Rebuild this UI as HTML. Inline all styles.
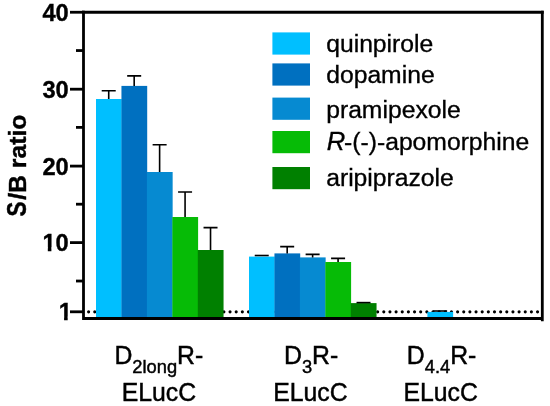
<!DOCTYPE html>
<html><head><meta charset="utf-8"><title>S/B ratio</title>
<style>
html,body{margin:0;padding:0;background:#fff;}
svg{display:block;font-family:"Liberation Sans",Arial,Helvetica,sans-serif;}
</style></head>
<body>
<svg width="550" height="406" viewBox="0 0 550 406">
<rect width="550" height="406" fill="#fff"/>
<!-- dotted reference line -->
<path d="M88.6 311.8H539" fill="none" stroke="#000" stroke-width="3.15" stroke-linecap="round" stroke-dasharray="0 6.15"/>
<!-- bars -->
<rect x="96.00" y="99.00" width="25.75" height="219.00" fill="#00bfff"/>
<rect x="121.45" y="85.90" width="25.75" height="232.10" fill="#0070c0"/>
<rect x="146.90" y="172.00" width="25.75" height="146.00" fill="#068ad1"/>
<rect x="172.35" y="217.00" width="25.75" height="101.00" fill="#06bb06"/>
<rect x="197.80" y="250.00" width="25.75" height="68.00" fill="#008000"/>
<rect x="249.00" y="256.60" width="25.75" height="61.40" fill="#00bfff"/>
<rect x="274.45" y="253.40" width="25.75" height="64.60" fill="#0070c0"/>
<rect x="299.90" y="257.40" width="25.75" height="60.60" fill="#068ad1"/>
<rect x="325.35" y="262.00" width="25.75" height="56.00" fill="#06bb06"/>
<rect x="350.80" y="303.10" width="25.75" height="14.90" fill="#008000"/>
<rect x="427.40" y="311.90" width="25.75" height="6.10" fill="#00bfff"/>
<g fill="none" stroke="#000" stroke-width="1.6">
<path d="M108.72 99.00V90.70M101.72 90.70H115.72"/>
<path d="M134.18 85.90V75.90M127.18 75.90H141.18"/>
<path d="M159.62 172.00V144.70M152.62 144.70H166.62"/>
<path d="M185.07 217.00V192.00M178.07 192.00H192.07"/>
<path d="M210.53 250.00V227.60M203.53 227.60H217.53"/>
<path d="M254.73 255.50H268.73"/>
<path d="M287.18 253.40V246.60M280.18 246.60H294.18"/>
<path d="M312.62 257.40V254.40M305.62 254.40H319.62"/>
<path d="M338.08 262.00V258.40M331.08 258.40H345.08"/>
<path d="M356.53 302.60H370.53"/>
<path d="M433.12 311.00H447.12"/>
</g>
<!-- frame -->
<g fill="none" stroke="#000" stroke-width="2.8">
<path d="M83.5 10.8V319.9M82.1 318.5H543.7M542.3 10.8V321.3"/><path d="M82.1 12.25H543.7" stroke-width="3.1"/>
<path d="M70 12.25H83.5" />
<path d="M70 89.20H83.5" />
<path d="M70 166.10H83.5" />
<path d="M70 242.60H83.5" />
<path d="M70 311.80H83.5" />
<path d="M76 50.55H83.5" />
<path d="M76 127.38H83.5" />
<path d="M76 204.20H83.5" />
<path d="M76 281.03H83.5" />
</g>
<!-- tick labels -->
<text transform="translate(68.80 21.05) scale(1 1.03)" text-anchor="end" font-size="23.7" font-weight="bold" fill="#000" stroke="#000" stroke-width="0.35">40</text>
<text transform="translate(68.80 97.60) scale(1 1.03)" text-anchor="end" font-size="23.7" font-weight="bold" fill="#000" stroke="#000" stroke-width="0.35">30</text>
<text transform="translate(68.80 174.50) scale(1 1.03)" text-anchor="end" font-size="23.7" font-weight="bold" fill="#000" stroke="#000" stroke-width="0.35">20</text>
<text transform="translate(68.80 251.00) scale(1 1.03)" text-anchor="end" font-size="23.7" font-weight="bold" fill="#000" stroke="#000" stroke-width="0.35">10</text>
<rect x="42.43" y="247.41" width="5.37" height="4.99" fill="#fff"/>
<rect x="51.39" y="247.41" width="4.64" height="4.99" fill="#fff"/>
<text transform="translate(71.90 320.20) scale(1 1.03)" text-anchor="end" font-size="23.7" font-weight="bold" fill="#000" stroke="#000" stroke-width="0.35">1</text>
<rect x="58.71" y="316.61" width="5.37" height="4.99" fill="#fff"/>
<rect x="67.67" y="316.61" width="4.64" height="4.99" fill="#fff"/>
<!-- y label -->
<g font-size="24" font-weight="bold" fill="#000" stroke="#000" stroke-width="0.4">
<text transform="translate(26.2 216.4) rotate(-90) scale(0.93 1.17)">S</text>
<text transform="translate(26.2 199.85) rotate(-90) scale(1.033 1)">/B ratio</text>
</g>
<!-- legend -->
<rect x="272.4" y="32.4" width="37.6" height="22.2" fill="#00bfff"/>
<text x="326.2" y="51.9" font-size="24.7" stroke="#000" stroke-width="0.35">quinpirole</text>
<rect x="272.4" y="63.4" width="37.6" height="22.2" fill="#0070c0"/>
<text x="326.2" y="83.0" font-size="24.7" stroke="#000" stroke-width="0.35">dopamine</text>
<rect x="272.4" y="97.6" width="37.6" height="22.2" fill="#068ad1"/>
<text x="326.2" y="118.2" font-size="24.7" stroke="#000" stroke-width="0.35">pramipexole</text>
<rect x="272.4" y="131.0" width="37.6" height="22.2" fill="#06bb06"/>
<text x="326.2" y="150.4" font-size="24.7" stroke="#000" stroke-width="0.35"><tspan font-style="italic" font-size="25.6" dx="0.5">R</tspan><tspan dx="-1.15">-</tspan>(-)-apomorphine</text>
<rect x="272.4" y="167.0" width="37.6" height="22.2" fill="#008000"/>
<text x="326.2" y="186.2" font-size="24.7" stroke="#000" stroke-width="0.35">aripiprazole</text>
<!-- x labels -->
<g fill="#000" stroke="#000" stroke-width="0.45">
<text transform="translate(114.40 363.8) scale(1 1.04)" font-size="24.8">D</text>
<text transform="translate(132.31 372.5) scale(1 1.04)" font-size="18.3">2long</text>
<text transform="translate(177.07 363.8) scale(1 1.04)" font-size="24.8">R-</text>
<text transform="translate(121.70 400.8) scale(1 1.04)" font-size="24.8">ELucC</text>
<text transform="translate(284.00 363.8) scale(1 1.04)" font-size="24.8">D</text>
<text transform="translate(301.91 372.5) scale(1 1.04)" font-size="18.3">3</text>
<text transform="translate(312.08 363.8) scale(1 1.04)" font-size="24.8">R-</text>
<text transform="translate(273.20 400.8) scale(1 1.04)" font-size="24.8">ELucC</text>
<text transform="translate(406.80 363.8) scale(1 1.04)" font-size="24.8">D</text>
<text transform="translate(424.71 372.5) scale(1 1.04)" font-size="18.3">4.4</text>
<text transform="translate(450.14 363.8) scale(1 1.04)" font-size="24.8">R-</text>
<text transform="translate(403.50 400.8) scale(1 1.04)" font-size="24.8">ELucC</text>
</g>
</svg>
</body></html>
